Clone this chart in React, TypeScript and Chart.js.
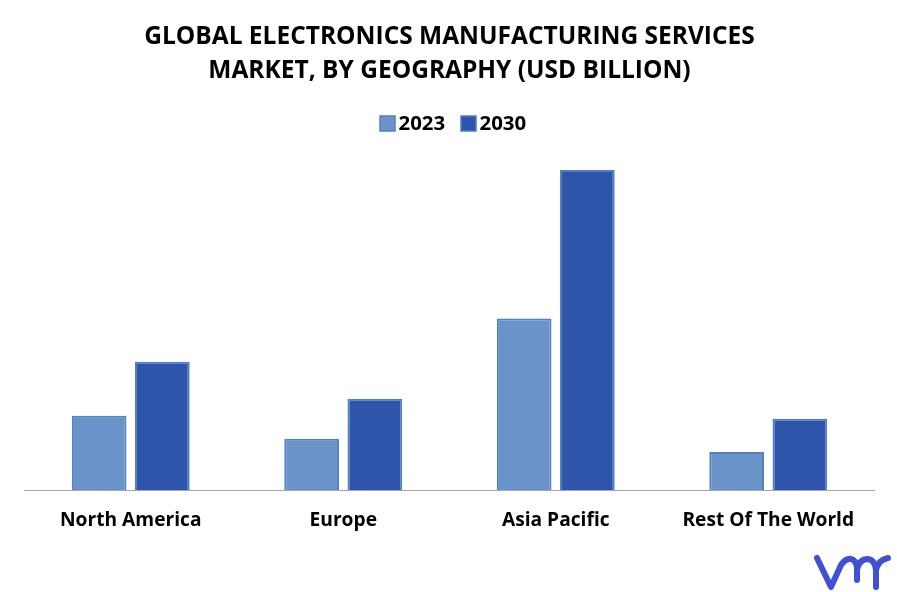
import { useEffect, useRef } from 'react';
import { Chart, registerables, type Plugin } from 'chart.js';

Chart.register(...registerables);

const categories = ['North America', 'Europe', 'Asia Pacific', 'Rest Of The World'];
const values2023 = [74, 51, 171, 38];
const values2030 = [128, 91, 319, 71];
const titleLines = ['GLOBAL ELECTRONICS MANUFACTURING SERVICES', 'MARKET, BY GEOGRAPHY (USD BILLION)'];

const FONT = '"Open Sans", "Noto Sans", sans-serif';

// chart.js fixes the box-to-text gap of its legend, the reference has a tighter one
const legendPlugin: Plugin<'bar'> = {
  id: 'tightLegend',
  afterDraw(chart) {
    const { ctx } = chart;
    const starts = [380, 461];
    ctx.save();
    ctx.font = `bold 20.4px ${FONT}`;
    ctx.textBaseline = 'middle';
    chart.data.datasets.forEach((ds, i) => {
      ctx.fillStyle = ds.backgroundColor as string;
      ctx.strokeStyle = ds.borderColor as string;
      ctx.lineWidth = 1.5;
      ctx.fillRect(starts[i], 116, 15, 15);
      ctx.strokeRect(starts[i], 116, 15, 15);
      ctx.fillStyle = '#000000';
      ctx.fillText(ds.label ?? '', starts[i] + 18.5, 124);
    });
    ctx.restore();
  },
};

// logo in the bottom right corner
const logoPlugin: Plugin<'bar'> = {
  id: 'logo',
  afterDraw(chart) {
    const { ctx } = chart;
    ctx.save();
    ctx.strokeStyle = '#3f51d3';
    ctx.lineWidth = 6;
    ctx.lineCap = 'round';
    ctx.lineJoin = 'round';
    ctx.stroke(new Path2D('M817 558 L831 587 L841 565 Q846 558 851 559 Q856 560 857 568 L857 580'));
    ctx.stroke(new Path2D('M857 570 Q859 559 868 559 Q875 560 876 570 L876 587'));
    ctx.stroke(new Path2D('M876 570 Q878 560 888 558'));
    ctx.restore();
  },
};

export default function App() {
  const canvasRef = useRef<HTMLCanvasElement>(null);

  useEffect(() => {
    if (canvasRef.current === null) return undefined;
    const chart = new Chart(canvasRef.current, {
      type: 'bar',
      data: {
        labels: categories,
        datasets: [
          {
            label: '2023',
            data: values2023,
            backgroundColor: '#6a93c9',
            borderColor: '#4f80c4',
            borderWidth: 2,
          },
          {
            label: '2030',
            data: values2030,
            backgroundColor: '#2f55ab',
            borderColor: '#4f80c4',
            borderWidth: 2,
          },
        ],
      },
      options: {
        responsive: false,
        animation: false,
        layout: { padding: { left: 24.5, right: 22.5, top: 20, bottom: 0 } },
        datasets: { bar: { categoryPercentage: 0.595, barPercentage: 0.865 } },
        plugins: {
          tooltip: { enabled: false },
          legend: { display: false },
          title: {
            display: true,
            text: titleLines,
            color: '#000000',
            font: { family: FONT, size: 24.5, weight: 'bold', lineHeight: 1.39 },
            padding: { top: 0, bottom: 82 },
          },
        },
        scales: {
          x: {
            afterFit: (scale) => { scale.height = 102; },
            grid: { display: false },
            border: { color: '#a6a6a6', width: 1 },
            ticks: {
              color: '#000000',
              font: { family: FONT, size: 19.2, weight: 'bold' },
              padding: 11,
              maxRotation: 0,
              autoSkip: false,
            },
          },
          y: { display: false, min: 0, max: 319 },
        },
      },
      plugins: [legendPlugin, logoPlugin],
    });
    return () => { chart.destroy(); };
  }, []);

  return (
    <div style={{ position: 'fixed', left: 0, top: 0, width: 897, height: 592, background: '#ffffff' }}>
      <canvas ref={canvasRef} width={897} height={592} style={{ display: 'block' }} />
    </div>
  );
}
